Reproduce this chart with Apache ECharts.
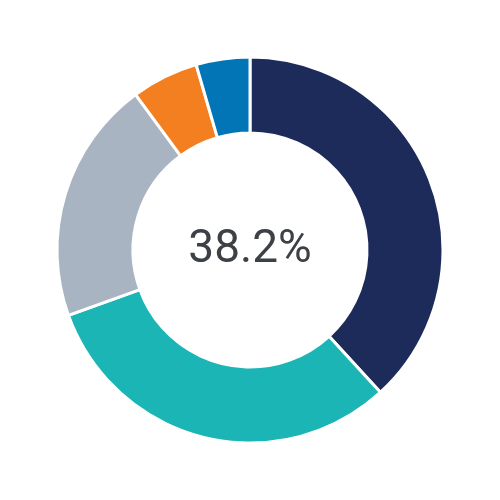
<!DOCTYPE html>
<html>
<head>
<meta charset="utf-8">
<style>
  html, body { margin: 0; padding: 0; background: #ffffff; }
  #chart { width: 500px; height: 500px; }
</style>
<script src="https://cdn.jsdelivr.net/npm/echarts@6/dist/echarts.min.js"></script>
</head>
<body>
<div id="chart"></div>
<script>
// 数据：顺时针从顶部开始
const categories = ['A', 'B', 'C', 'D', 'E'];
const values = [38.2, 31.3, 20.4, 5.6, 4.5];
const colors = ['#1c2b5a', '#1bb5b6', '#a9b4c2', '#f47f20', '#0175b5'];
const centerLabel = '38.2%';

const myChart = echarts.init(document.getElementById('chart'));

const option = {
    animation: false,
    title: {
        text: centerLabel,
        left: 'center',
        top: 'middle',
        textStyle: {
            fontFamily: 'Roboto',
            fontSize: 46,
            fontWeight: 'normal',
            color: '#3d4145'
        }
    },
    series: [{
        type: 'pie',
        center: ['50%', '50%'],
        radius: ['46.8%', '77.2%'],
        startAngle: 90,
        clockwise: true,
        label: { show: false },
        labelLine: { show: false },
        itemStyle: {
            borderColor: '#ffffff',
            borderWidth: 3
        },
        data: categories.map((name, i) => ({
            name: name,
            value: values[i],
            itemStyle: { color: colors[i] }
        }))
    }]
};

myChart.setOption(option);
</script>
</body>
</html>
